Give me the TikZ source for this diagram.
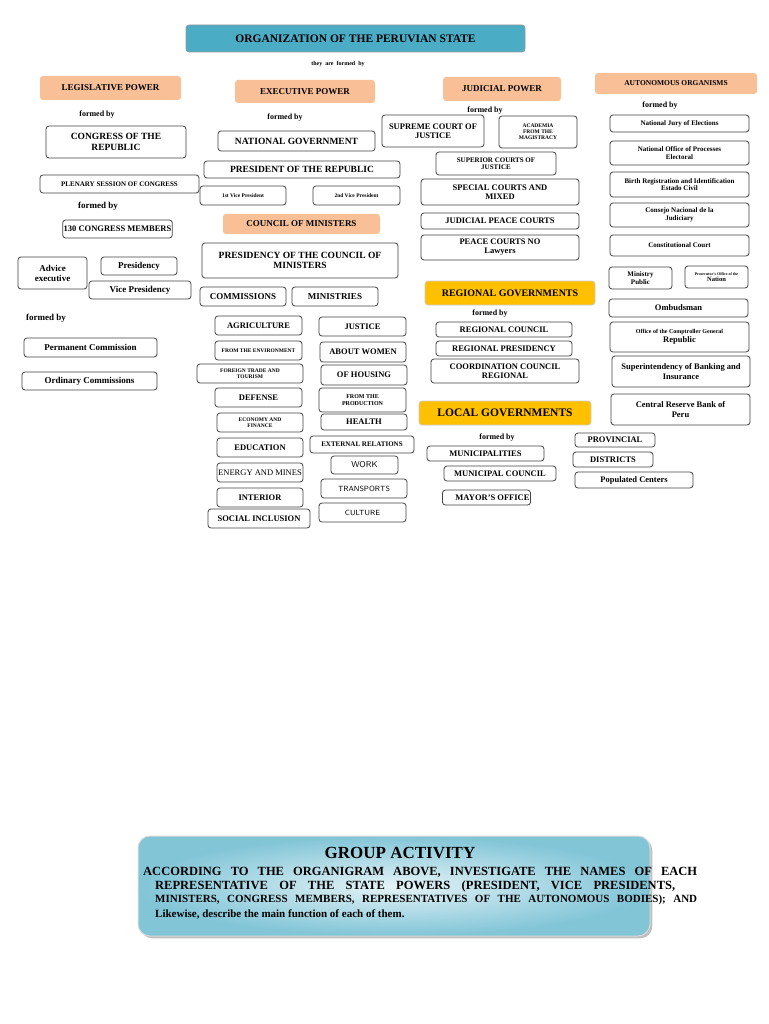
\documentclass[tikz,border=0pt]{standalone}
\usepackage{fontspec}
\setmainfont{Liberation Serif}
\usetikzlibrary{shadows}
\definecolor{peach}{RGB}{249,191,150}
\definecolor{gold}{RGB}{255,192,0}
\definecolor{teal1}{RGB}{75,172,198}
\tikzset{box/.style={draw=black!75,rounded corners=3pt,line width=0.8pt,inner sep=1pt,align=center,font=\bfseries\fontsize{8.5}{9}\selectfont},
hdr/.style={box,draw=none,fill=peach,font=\bfseries\fontsize{9}{10}\selectfont},
gov/.style={box,draw=black!20,fill=gold,font=\bfseries\fontsize{10}{11}\selectfont},
lbl/.style={font=\bfseries\fontsize{8}{8.5}\selectfont},
tiny/.style={font=\bfseries\fontsize{5.5}{6}\selectfont},
sm/.style={font=\bfseries\fontsize{7}{7.5}\selectfont},
gline/.style={font=\bfseries\fontsize{12.5}{13}\selectfont,anchor=west,inner sep=0pt}}
\newcommand\bx[7][]{\node[box,#1,minimum width={#4pt-#2pt},minimum height={#5pt-#3pt}] (#7) at ({(#2+#4)/2},{(#3+#5)/2}) {#6};}
\begin{document}
\begin{tikzpicture}[x=1pt,y=-1pt]
\useasboundingbox (0,0) rectangle (768,1024);
\bx[fill=teal1,draw=black!40,font=\bfseries\fontsize{11.5}{12}\selectfont]{186}{25}{525}{52}{ORGANIZATION OF THE PERUVIAN STATE}{title}
\node[lbl,font=\bfseries\fontsize{6}{7}\selectfont] (tafb) at (338,64) {they\ \ are\ \ formed\ \ by};
\bx[hdr]{40}{76}{181}{100}{LEGISLATIVE POWER}{leg}
\bx[hdr]{235}{80}{375}{103}{EXECUTIVE POWER}{exe}
\bx[hdr]{443}{77}{561}{101}{JUDICIAL POWER}{jud}
\bx[hdr,font=\bfseries\fontsize{7.5}{8}\selectfont]{595}{73}{757}{94}{AUTONOMOUS ORGANISMS}{aut}
\node[lbl] (f1) at (97,115) {formed by};
\node[lbl] (f2) at (285,118) {formed by};
\node[lbl] (f3) at (485,111) {formed by};
\node[lbl] (f4) at (660,106) {formed by};
% legislative
\bx[font=\bfseries\fontsize{9.5}{10.5}\selectfont]{46}{126}{186}{158}{CONGRESS OF THE\\REPUBLIC}{cong}
\bx[sm]{40}{175}{199}{193}{PLENARY SESSION OF CONGRESS}{plen}
\node[lbl,font=\bfseries\fontsize{9}{9}\selectfont] (f5) at (98,206) {formed by};
\bx{65}{220}{170}{238}{130 CONGRESS MEMBERS}{mem}
\bx[font=\bfseries\fontsize{9}{10}\selectfont]{18}{257}{87}{289}{Advice\\executive}{adv}
\bx[font=\bfseries\fontsize{9}{9}\selectfont]{101}{257}{177}{275}{Presidency}{pres}
\bx[font=\bfseries\fontsize{9}{9}\selectfont]{89}{281}{191}{299}{Vice Presidency}{vpres}
\node[lbl,font=\bfseries\fontsize{9}{9}\selectfont] (f6) at (46,318) {formed by};
\bx[font=\bfseries\fontsize{9}{9}\selectfont]{24}{338}{157}{357}{Permanent Commission}{perm}
\bx[font=\bfseries\fontsize{9}{9}\selectfont]{22}{372}{157}{390}{Ordinary Commissions}{ord}
% executive
\bx[font=\bfseries\fontsize{9.5}{10}\selectfont]{218}{131}{375}{151}{NATIONAL GOVERNMENT}{ng}
\bx[font=\bfseries\fontsize{9.5}{10}\selectfont]{204}{161}{400}{178}{PRESIDENT OF THE REPUBLIC}{pr}
\bx[tiny]{200}{186}{286}{205}{1st Vice President}{vp1}
\bx[tiny]{313}{186}{400}{205}{2nd Vice President}{vp2}
\bx[hdr]{223}{214}{380}{234}{COUNCIL OF MINISTERS}{com}
\bx[font=\bfseries\fontsize{9.5}{10.5}\selectfont]{202}{243}{398}{278}{PRESIDENCY OF THE COUNCIL OF\\MINISTERS}{pcm}
\bx[font=\bfseries\fontsize{9}{9}\selectfont]{200}{287}{286}{306}{COMMISSIONS}{comm}
\bx[font=\bfseries\fontsize{9}{9}\selectfont]{292}{287}{378}{306}{MINISTRIES}{mins}
\bx{215}{316}{302}{335}{AGRICULTURE}{m1}
\bx[tiny]{215}{341}{302}{360}{FROM THE ENVIRONMENT}{m2}
\bx[tiny]{197}{364}{303}{383}{FOREIGN TRADE AND\\TOURISM}{m3}
\bx{215}{388}{302}{407}{DEFENSE}{m4}
\bx[tiny]{217}{413}{303}{432}{ECONOMY AND\\FINANCE}{m5}
\bx{217}{438}{303}{457}{EDUCATION}{m6}
\bx[font=\mdseries\fontsize{8.5}{9}\selectfont]{217}{463}{303}{482}{ENERGY AND MINES}{m7}
\bx{217}{488}{303}{507}{INTERIOR}{m8}
\bx{208}{509}{310}{528}{SOCIAL INCLUSION}{m9}
\bx{319}{317}{406}{336}{JUSTICE}{n1}
\bx{320}{342}{406}{362}{ABOUT WOMEN}{n2}
\bx{321}{365}{407}{385}{OF HOUSING}{n3}
\bx[font=\bfseries\fontsize{6}{7}\selectfont]{319}{388}{406}{412}{FROM THE\\PRODUCTION}{n4}
\bx{321}{414}{407}{430}{HEALTH}{n5}
\bx[sm]{310}{436}{414}{453}{EXTERNAL RELATIONS}{n6}
\bx[font=\sffamily\fontsize{8.5}{9}\selectfont]{331}{456}{398}{474}{WORK}{n7}
\bx[font=\sffamily\fontsize{7.5}{8}\selectfont]{321}{479}{407}{498}{TRANSPORTS}{n8}
\bx[font=\sffamily\fontsize{7.5}{8}\selectfont]{319}{503}{406}{522}{CULTURE}{n9}
% judicial
\bx{382}{115}{484}{147}{SUPREME COURT OF\\JUSTICE}{sup}
\bx[tiny]{499}{116}{577}{148}{ACADEMIA\\FROM THE\\MAGISTRACY}{acad}
\bx[sm]{436}{152}{556}{175}{SUPERIOR COURTS OF\\JUSTICE}{supc}
\bx{421}{179}{579}{205}{SPECIAL COURTS AND\\MIXED}{spec}
\bx{421}{213}{579}{229}{JUDICIAL PEACE COURTS}{jpc}
\bx{421}{235}{579}{260}{PEACE COURTS NO\\Lawyers}{pc}
\bx[gov]{425}{281}{595}{305}{REGIONAL GOVERNMENTS}{reg}
\node[lbl] (f7) at (490,314) {formed by};
\bx{436}{322}{572}{337}{REGIONAL COUNCIL}{rc}
\bx{436}{341}{572}{356}{REGIONAL PRESIDENCY}{rp}
\bx{431}{359}{579}{383}{COORDINATION COUNCIL\\REGIONAL}{cc}
\bx[gov,font=\bfseries\fontsize{11.5}{12}\selectfont]{419}{401}{591}{425}{LOCAL GOVERNMENTS}{loc}
\node[lbl] (f8) at (497,438) {formed by};
\bx{427}{446}{544}{461}{MUNICIPALITIES}{mun}
\bx{444}{466}{556}{481}{MUNICIPAL COUNCIL}{mc}
\bx{444}{490}{529}{505}{\hspace*{12pt}MAYOR'S OFFICE}{mo}
\bx{575}{433}{655}{447}{PROVINCIAL}{prov}
\bx{573}{452}{653}{467}{DISTRICTS}{dist}
\bx{575}{472}{693}{488}{Populated Centers}{popc}
% autonomous
\bx[sm]{610}{115}{749}{132}{National Jury of Elections}{a1}
\bx[sm]{610}{141}{749}{165}{National Office of Processes\\Electoral}{a2}
\bx[sm]{610}{172}{749}{197}{Birth Registration and Identification\\Estado Civil}{a3}
\bx[sm]{610}{203}{749}{227}{Consejo Nacional de la\\Judiciary}{a4}
\bx[sm]{610}{235}{749}{256}{Constitutional Court}{a5}
\bx[sm]{609}{267}{672}{289}{Ministry\\Public}{a6}
\bx[font=\bfseries\fontsize{4}{6}\selectfont]{685}{266}{748}{288}{Prosecutor's Office of the\\{\fontsize{6.5}{7}\selectfont Nation}}{a7}
\bx{609}{299}{748}{317}{Ombudsman}{a8}
\bx[font=\bfseries\fontsize{8.5}{9.5}\selectfont]{610}{322}{749}{352}{{\fontsize{6}{7}\selectfont Office of the Comptroller General}\\Republic}{a9}
\bx[font=\bfseries\fontsize{8.5}{9.5}\selectfont]{612}{356}{750}{387}{Superintendency of Banking and\\Insurance}{a10}
\bx[font=\bfseries\fontsize{8.5}{9.5}\selectfont]{611}{394}{750}{425}{Central Reserve Bank of\\Peru}{a11}
% group activity
\node[rounded corners=12pt,draw=black!15,line width=1pt,drop shadow,minimum width=512pt,minimum height=100pt,inner color=teal1!15,outer color=teal1!70] (ga) at (394,886) {};
\node[font=\bfseries\fontsize{17}{18}\selectfont] (gat) at (400,853) {GROUP ACTIVITY};
\node[gline] (g1) at (143,872) {\makebox[554pt][s]{ACCORDING TO THE ORGANIGRAM ABOVE, INVESTIGATE THE NAMES OF EACH}};
\node[gline] (g2) at (155,886) {\makebox[520pt][s]{REPRESENTATIVE OF THE STATE POWERS (PRESIDENT, VICE PRESIDENTS,}};
\node[gline,font=\bfseries\fontsize{11}{12}\selectfont] (g3) at (155,900) {\makebox[542pt][s]{MINISTERS, CONGRESS MEMBERS, REPRESENTATIVES OF THE AUTONOMOUS BODIES); AND}};
\node[gline,font=\bfseries\fontsize{11}{12}\selectfont] (g4) at (155,914) {Likewise, describe the main function of each of them.};
\end{tikzpicture}
\end{document}
